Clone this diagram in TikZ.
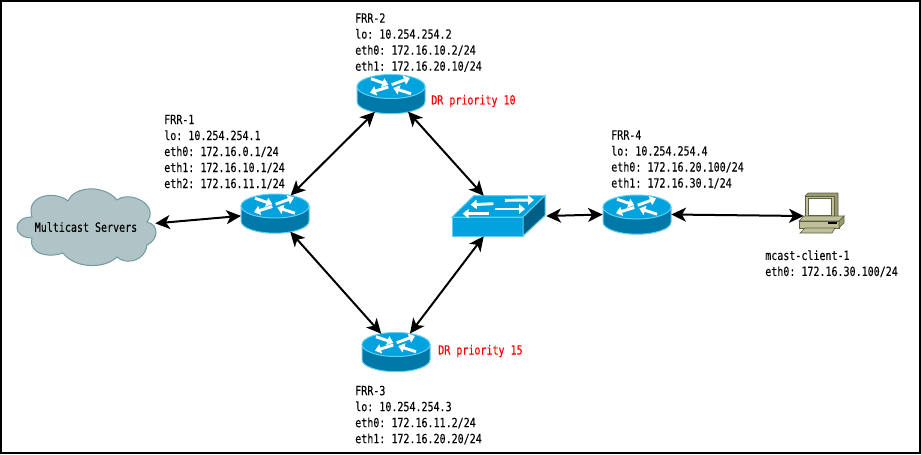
\documentclass[tikz,border=0pt]{standalone}
\usepackage{fontspec}
\setmonofont[FakeStretch=0.79, FakeBold=0.12]{DejaVu Sans Mono}
\usetikzlibrary{positioning, arrows.meta, shapes.geometric}

\definecolor{routertop}{HTML}{00A3DE}
\definecolor{routerbody}{HTML}{0079A8}
\definecolor{routerrim}{HTML}{63CDF2}
\definecolor{switchside}{HTML}{005F86}
\definecolor{cloudfill}{HTML}{B0C4C8}
\definecolor{cloudrim}{HTML}{6F9A9E}
\definecolor{pclight}{HTML}{BFBF9A}
\definecolor{pcmid}{HTML}{9A9A72}
\definecolor{pcdark}{HTML}{5E5E40}

\tikzset{
    label text/.style={anchor=north west, inner sep=0pt, align=left, font=\ttfamily\fontsize{9.5pt}{12pt}\selectfont},
    dr text/.style={anchor=west, inner sep=0pt, text=red, font=\ttfamily\fontsize{9.5pt}{12pt}\selectfont},
    router/.style={ellipse, minimum width=51pt, minimum height=30pt, inner sep=0pt},
    link/.style={line width=1.5pt, {Stealth[length=11pt, width=10.5pt, inset=3pt]}-{Stealth[length=11pt, width=10.5pt, inset=3pt]}},
    white arrow/.style={white, line width=2.2pt, -{Triangle[length=4.5pt, width=7pt]}},
    router icon/.pic={
        \draw [routerrim, fill=routerbody, line width=.75pt]
            (-34,-7.5) -- (-34,7.7) arc [start angle=180, end angle=0, x radius=34, y radius=12]
            -- (34,-7.5) -- cycle;
        \draw [routerrim, fill=routertop, line width=.75pt]
            (0,-7.5) ellipse [x radius=34, y radius=12];
        \draw [white arrow] (-20,-15.3) -- (-2.7,-9.3);
        \draw [white arrow] (.7,-9.3) -- (19,-16);
        \draw [white arrow] (-2.7,-7) -- (-21,-1.3);
        \draw [white arrow] (20,-.3) -- (2.3,-6);
    }
}

\begin{document}
\begin{tikzpicture}[x=.75pt, y=-.75pt]
    \useasboundingbox (0,0) rectangle (921,454);
    \draw [line width=1.75pt] (1,1) rectangle (919.7,452.7);

    % cloud and routers
    \draw [cloudrim, fill=cloudfill, line width=.75pt] (32,238)
        .. controls (12,238) and (12,217) .. (32,217)
        .. controls (25,195) and (55,190) .. (68,201)
        .. controls (75,185) and (105,185) .. (117,200)
        .. controls (130,190) and (160,205) .. (147,222)
        .. controls (160,225) and (158,240) .. (147,245)
        .. controls (145,262) and (125,265) .. (117,257)
        .. controls (105,269) and (75,269) .. (63,253)
        .. controls (50,258) and (28,255) .. (32,238) -- cycle;
    \node [minimum width=103.5pt, minimum height=56pt, inner sep=0pt, font=\ttfamily\fontsize{9.5pt}{12pt}\selectfont] (Cloud) at (86,227) {Multicast Servers};

    \node [router] (FRR1) at (275,213.5) {};
    \node [router] (FRR2) at (391,94) {};
    \node [router] (FRR3) at (396,352) {};
    \node [router] (FRR4) at (637,214.5) {};
    \pic at (FRR1) {router icon};
    \pic at (FRR2) {router icon};
    \pic at (FRR3) {router icon};
    \pic at (FRR4) {router icon};

    % switch
    \node [minimum width=70.5pt, minimum height=30pt, inner sep=0pt] (Switch) at (499,216) {};
    \draw [routerrim, fill=routertop, line width=.75pt] (452,217) -- (474,195.5) -- (545,195.5) -- (523,217) -- cycle;
    \draw [routerrim, fill=routertop, line width=.75pt] (452,217) rectangle (523,236);
    \draw [routerrim, fill=switchside, line width=.75pt] (523,217) -- (545,195.5) -- (545,215.5) -- (523,236) -- cycle;
    \draw [white arrow] (505,200.3) -- (534,200);
    \draw [white arrow] (493.3,203.7) -- (470.7,204.7);
    \draw [white arrow] (489.3,213.7) -- (462.7,213.7);
    \draw [white arrow] (495,209) -- (525,209);

    % client
    \node [minimum width=30pt, minimum height=25.5pt, inner sep=0pt] (Client) at (824,216) {};
    \draw [pcdark, fill=pcmid, line width=.5pt] (805,196) -- (808,193) -- (838,193) -- (838,216) -- (834,219) -- cycle;
    \draw [pcdark, fill=pclight, line width=.5pt] (805,196) rectangle (834,219);
    \draw [pcdark, fill=white, line width=.5pt] (808,198.5) rectangle (831,215.5);
    \draw [pcdark, fill=pclight, line width=.5pt] (799,221) -- (804,216) -- (844,216) -- (839,221) -- cycle;
    \draw [pcdark, fill=pclight, line width=.5pt] (799,221) rectangle (839,228);
    \draw [pcdark, fill=pcmid, line width=.5pt] (839,221) -- (844,216) -- (844,223) -- (839,228) -- cycle;
    \fill [black] (828,222) rectangle (837,224);
    \draw [pcdark, fill=pclight, line width=.5pt] (800,233) -- (805,228) -- (835,228) -- (832,233) -- cycle;

    % links
    \draw [link] (Cloud.3) -- (FRR1.184);
    \draw [link] (FRR1.49) -- (FRR2.228);
    \draw [link] (FRR1.-50) -- (FRR3.129);
    \draw [link] (FRR2.-46) -- (Switch.127);
    \draw [link] (FRR3.53) -- (Switch.233);
    \draw [link] (Switch.east) -- (FRR4.west);
    \draw [link] (FRR4.east) -- (Client.west);

    % labels
    \node [label text] (FRR1Name) at (164,114.5) {FRR-1\\lo: 10.254.254.1\\eth0: 172.16.0.1/24\\eth1: 172.16.10.1/24\\eth2: 172.16.11.1/24};
    \node [label text] (FRR2Name) at (355,13) {FRR-2\\lo: 10.254.254.2\\eth0: 172.16.10.2/24\\eth1: 172.16.20.10/24};
    \node [label text] (FRR3Name) at (355,385.5) {FRR-3\\lo: 10.254.254.3\\eth0: 172.16.11.2/24\\eth1: 172.16.20.20/24};
    \node [label text] (FRR4Name) at (611,130) {FRR-4\\lo: 10.254.254.4\\eth0: 172.16.20.100/24\\eth1: 172.16.30.1/24};
    \node [label text] (ClientName) at (765,250) {mcast-client-1\\eth0: 172.16.30.100/24};
    \node [dr text] (FRR2Prio) at (431,101) {DR priority 10};
    \node [dr text] (FRR3Prio) at (438,351) {DR priority 15};
\end{tikzpicture}
\end{document}
